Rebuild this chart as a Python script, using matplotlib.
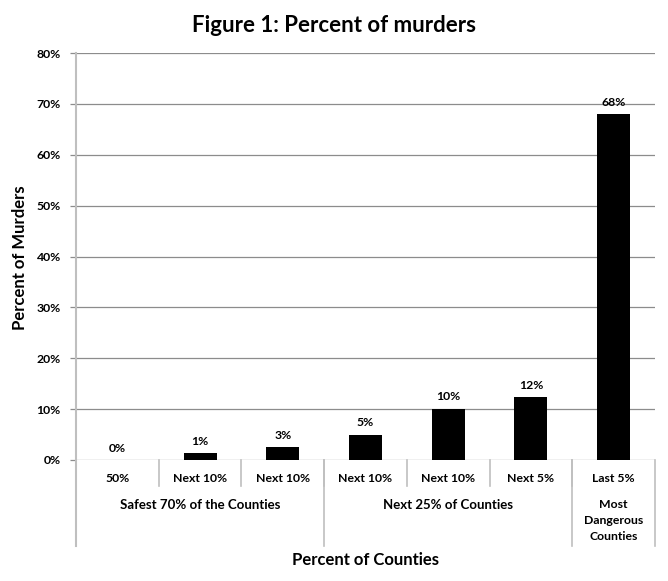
import matplotlib
matplotlib.use("Agg")
import matplotlib.pyplot as plt
import numpy as np

categories = ['50%', 'Next 10%', 'Next 10%', 'Next 10%', 'Next 10%', 'Next 5%', 'Last 5%']
values = [0.0, 1.4, 2.6, 5.0, 10.1, 12.3, 68.0]
value_labels = ['0%', '1%', '3%', '5%', '10%', '12%', '68%']
groups = ['Safest 70% of the Counties', 'Next 25% of Counties', 'Most\nDangerous\nCounties']
group_sizes = [3, 3, 1]
yticks = [0, 10, 20, 30, 40, 50, 60, 70, 80]

plt.rcParams['font.family'] = ['Lato', 'DejaVu Sans']
plt.rcParams['font.weight'] = 'bold'

W, H = 668, 581
fig = plt.figure(figsize=(W / 100, H / 100), dpi=100)
left, right, top, bottom = 76, 655, 53, 460
ax = fig.add_axes([left / W, 1 - bottom / H, (right - left) / W, (bottom - top) / H])

n = len(categories)
x = np.arange(n)
ax.set_xlim(-0.5, n - 0.5)
ax.set_ylim(0, 80)

grid_color = '#8c8c8c'
axis_color = '#bfbfbf'
small = 8.8
for t in yticks:
    ax.axhline(t, color=grid_color, lw=0.9, zorder=1)

ax.bar(x, values, width=0.4, color='black', zorder=3)
for xi, v, lab in zip(x, values, value_labels):
    ax.annotate(lab, (xi, v), xytext=(0, 4.5), textcoords='offset points',
                ha='center', va='bottom', fontsize=small, fontweight='bold')

for s in ['top', 'right', 'bottom', 'left']:
    ax.spines[s].set_visible(False)

ax.set_yticks(yticks)
ax.set_yticklabels([f'{t}%' for t in yticks], fontsize=small, fontweight='bold')
ax.tick_params(axis='y', length=4, width=0.9, color=grid_color, pad=7)
ax.set_xticks([])

tr = ax.get_xaxis_transform()
px = 1.0 / (bottom - top)
y_lvl1_end = -(486 - bottom) * px
y_lvl2_end = -(546 - bottom) * px

# left axis line extended downward
ax.plot([-0.5, -0.5], [1, y_lvl2_end], transform=tr, color=axis_color, lw=1.5, clip_on=False, zorder=4)

# category labels and separators
for i, c in enumerate(categories):
    ax.text(i, -(478 - bottom) * px, c, transform=tr, ha='center', va='center', fontsize=small, fontweight='bold')
for i in range(1, n):
    ax.plot([i - 0.5, i - 0.5], [0, y_lvl1_end], transform=tr, color=axis_color, lw=1.2, clip_on=False)

start = 0
for g, sz in zip(groups, group_sizes):
    center = start + (sz - 1) / 2
    if '\n' in g:
        ax.text(center, -(498.5 - bottom) * px, g, transform=tr, ha='center', va='top',
                fontsize=small, fontweight='bold', linespacing=1.6)
    else:
        ax.text(center, -(505 - bottom) * px, g, transform=tr, ha='center', va='center',
                fontsize=9.5, fontweight='bold')
    end = start + sz
    ax.plot([end - 0.5, end - 0.5], [0, y_lvl2_end], transform=tr, color=axis_color, lw=1.2, clip_on=False)
    start = end

fig.text((left + right) / 2 / W, 1 - 560 / H, 'Percent of Counties', ha='center', va='center',
         fontsize=12, fontweight='bold')
fig.text(20 / W, 1 - 258 / H, 'Percent of Murders', ha='center', va='center', rotation=90,
         fontsize=12, fontweight='bold')
fig.text(334 / W, 1 - 25 / H, 'Figure 1: Percent of murders', ha='center', va='center',
         fontsize=16, fontweight='bold')

fig.savefig('out.png', dpi=100)
